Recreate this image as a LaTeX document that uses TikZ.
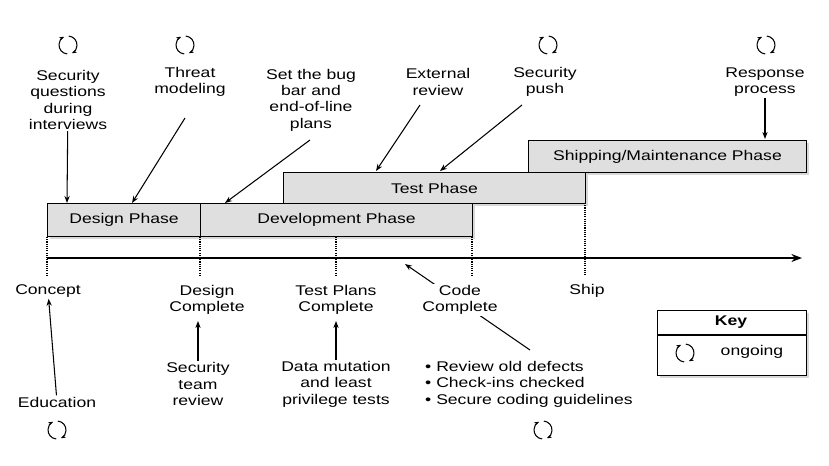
\documentclass[tikz,border=0pt]{standalone}
\usepackage{fontspec}
\setmainfont{Liberation Sans}[FakeStretch=1.25]
\usetikzlibrary{arrows.meta,shadows,calc}
\begin{document}
\begin{tikzpicture}[x=0.03cm, y=-0.03cm, font=\large,
    phase/.style={draw, line width=0.9pt, fill=gray!25, anchor=north west, minimum height=1.0cm, inner sep=0pt, drop shadow={shadow xshift=2pt, shadow yshift=-2pt, fill=gray!60}},
    lbl/.style={align=center, inner sep=1pt},
    arr/.style={-{Stealth[length=6pt]}, line width=0.9pt},
    tick/.style={densely dotted, line width=0.9pt},
    cyc/.style={line width=0.9pt, -{Stealth[length=4pt]}}]
    \useasboundingbox (0,0) rectangle (829,465);
    \newcommand{\ongoing}[1]{%
        \draw[cyc] ($(#1)+(95:9)$) arc[start angle=95, end angle=245, radius=9];
        \draw[cyc] ($(#1)+(275:9)$) arc[start angle=275, end angle=425, radius=9];}
    % phases
    \node[phase, minimum width=8.34cm, minimum height=0.96cm] (ship) at (528,140) {Shipping/Maintenance Phase};
    \node[phase, minimum width=9.06cm, minimum height=0.93cm] (test) at (283,172) {Test Phase};
    \node[phase, minimum width=4.59cm] (design) at (47,203) {Design Phase};
    \node[phase, minimum width=8.16cm] (dev) at (200,203) {Development Phase};
    % time line
    \coordinate (t0) at (47,258);
    \coordinate (t1) at (802,258);
    \draw[-{Stealth[length=9pt]}, line width=2pt] (t0) -- (t1);
    \draw[tick] (47,237) -- (47,275);
    \draw[tick] (200,237) -- (200,275);
    \draw[tick] (336,237) -- (336,275);
    \draw[tick] (472,237) -- (472,275);
    \draw[tick] (585,203) -- (585,275);
    % milestones
    \coordinate (cc) at (405,264);
    \draw[line width=0.9pt, -{Stealth[length=6pt]}] (530,350) -- (cc);
    \node[lbl] (concept) at (48,291) {Concept};
    \node[lbl, fill=white] (dcomp) at (207,300) {Design\\Complete};
    \node[lbl] (tcomp) at (336,300) {Test Plans\\Complete};
    \node[lbl, fill=white] (ccomp) at (460,300) {Code\\Complete};
    \node[lbl] (shipm) at (587,291) {Ship};
    % top activities
    \node[lbl] (secq) at (68,100) {Security\\questions\\during\\interviews};
    \node[lbl] (threat) at (190,82) {Threat\\modeling};
    \node[lbl] (bugbar) at (311,100) {Set the bug\\bar and\\end-of-line\\plans};
    \node[lbl] (ext) at (438,82) {External\\review};
    \node[lbl] (push) at (545,82) {Security\\push};
    \node[lbl] (resp) at (765,82) {Response\\process};
    \coordinate (a1) at (67,203);
    \coordinate (a2) at (132,203);
    \coordinate (a3) at (225,203);
    \coordinate (a4) at (376,171);
    \coordinate (a5) at (440,171);
    \coordinate (a6) at (765,139);
    \draw[arr] (secq) -- (a1);
    \draw[arr] (185,118) -- (a2);
    \draw[arr] (310,140) -- (a3);
    \draw[arr] (420,105) -- (a4);
    \draw[arr] (522,105) -- (a5);
    \draw[arr] (resp) -- (a6);
    % bottom activities
    \node[lbl] (edu) at (57,402) {Education};
    \node[lbl] (secteam) at (198,384) {Security\\team\\review};
    \node[lbl] (datamut) at (336,384) {Data mutation\\and least\\privilege tests};
    \node[align=left, anchor=west, inner sep=0pt] (bullets) at (425,384)
        {\textbullet\ Review old defects\\\textbullet\ Check-ins checked\\\textbullet\ Secure coding guidelines};
    \draw[arr] (edu) -- (concept);
    \draw[arr] (secteam) -- (198,321);
    \draw[arr] (datamut) -- (336,321);
    % key
    \node[draw, line width=1.2pt, minimum width=4.47cm, minimum height=1.95cm, anchor=north west, drop shadow={shadow xshift=2pt, shadow yshift=-2pt, fill=gray!60}, fill=white] (key) at (657,310) {};
    \draw[line width=0.9pt] (657,335) -- (806,335);
    \node[font=\large\bfseries] (keyt) at (731,322) {Key};
    \node (keyo) at (752,352) {ongoing};
    % ongoing marks
    \ongoing{68,45}
    \ongoing{185,45}
    \ongoing{548,45}
    \ongoing{766,45}
    \ongoing{57,430}
    \ongoing{543,430}
    \ongoing{685,353}
\end{tikzpicture}
\end{document}
